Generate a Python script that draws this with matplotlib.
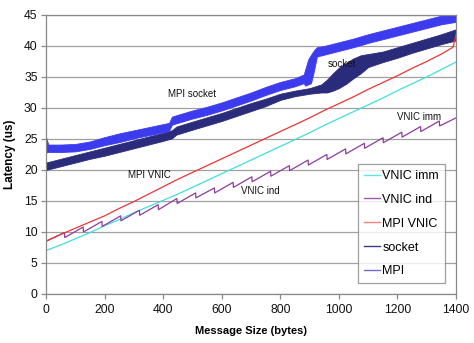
import matplotlib
matplotlib.use("Agg")
import matplotlib.pyplot as plt
from matplotlib.lines import Line2D

plt.rcParams['font.family'] = ['Liberation Sans', 'DejaVu Sans']

# ---- data (message size in bytes, latency in us) ----
vnic_imm_x = [0, 50, 100, 150, 200, 250, 300, 350, 400, 450, 500, 550, 600, 650, 700,
              750, 800, 850, 900, 950, 1000, 1050, 1100, 1150, 1200, 1250, 1300, 1350, 1400]
vnic_imm_y = [7.0, 7.9, 8.9, 9.9, 11.0, 12.0, 13.1, 14.1, 15.1, 16.1, 17.2, 18.3, 19.4, 20.5, 21.6,
              22.7, 23.8, 24.9, 26.0, 27.2, 28.3, 29.4, 30.5, 31.6, 32.8, 33.9, 35.0, 36.2, 37.4]

mpi_vnic_x = [0, 50, 100, 150, 200, 250, 300, 350, 400, 450, 500, 550, 600, 650, 700,
              750, 800, 850, 900, 950, 1000, 1050, 1100, 1150, 1200, 1250, 1300, 1350, 1390, 1400]
mpi_vnic_y = [8.5, 9.6, 10.6, 11.6, 12.6, 13.8, 14.9, 16.1, 17.3, 18.5, 19.6, 20.7, 21.8, 22.9, 24.0,
              25.1, 26.2, 27.3, 28.4, 29.6, 30.7, 31.8, 33.0, 34.1, 35.2, 36.4, 37.5, 38.7, 39.8, 41.8]

vnic_ind_x = [0, 63, 64, 127, 128, 191, 192, 255, 256, 319, 320, 383, 384, 447, 448, 511, 512,
              575, 576, 639, 640, 703, 704, 767, 768, 831, 832, 895, 896, 959, 960, 1023, 1024,
              1087, 1088, 1151, 1152, 1215, 1216, 1279, 1280, 1343, 1344, 1400]
vnic_ind_y = [8.5, 9.9, 9.1, 10.8, 10.0, 11.7, 10.9, 12.6, 11.8, 13.5, 12.7, 14.4, 13.6, 15.4, 14.6,
              16.3, 15.5, 17.1, 16.3, 18.0, 17.2, 18.9, 18.1, 19.8, 19.0, 20.7, 19.9, 21.6, 20.8,
              22.5, 21.7, 23.4, 22.6, 24.3, 23.5, 25.2, 24.4, 26.1, 25.3, 27.0, 26.2, 27.9, 27.1, 28.4]

socket_x = [0, 50, 100, 150, 200, 250, 300, 350, 400, 430, 445, 500, 550, 600, 650, 700, 750,
            800, 850, 900, 940, 960, 980, 1000, 1025, 1050, 1075, 1100, 1150, 1200, 1250, 1300,
            1350, 1400]
socket_low = [20.0, 20.6, 21.2, 21.8, 22.3, 22.9, 23.5, 24.1, 24.7, 25.1, 25.7, 26.5, 27.2, 27.9,
              28.7, 29.5, 30.3, 31.3, 31.9, 32.3, 32.5, 32.5, 32.8, 33.2, 33.9, 34.8, 35.6, 36.6,
              37.4, 38.1, 38.9, 39.6, 40.3, 40.9]
socket_high = [21.2, 21.8, 22.4, 23.0, 23.6, 24.2, 24.8, 25.4, 26.0, 26.4, 27.0, 27.8, 28.5, 29.2,
               30.0, 30.8, 31.5, 32.3, 32.8, 33.2, 33.8, 34.6, 35.6, 36.5, 37.3, 38.0, 38.5, 38.7,
               39.1, 39.8, 40.5, 41.2, 41.9, 42.7]

mpi_x = [0, 8, 50, 100, 150, 200, 250, 300, 350, 400, 420, 430, 450, 500, 550, 600, 650, 700,
         750, 800, 850, 880, 885, 895, 905, 915, 925, 950, 1000, 1050, 1100, 1150, 1200, 1250,
         1300, 1350, 1400]
mpi_low = [22.8, 22.9, 22.9, 23.0, 23.4, 24.0, 24.5, 25.1, 25.6, 26.1, 26.3, 27.3, 27.6, 28.3,
           28.9, 29.6, 30.4, 31.2, 32.1, 32.9, 33.5, 34.0, 33.6, 33.8, 34.0, 36.0, 38.3, 38.6,
           39.2, 39.8, 40.5, 41.1, 41.7, 42.3, 42.9, 43.5, 43.9]
mpi_high = [25.3, 24.1, 24.1, 24.2, 24.6, 25.3, 25.9, 26.4, 26.9, 27.4, 27.6, 28.6, 28.9, 29.6,
            30.2, 30.9, 31.7, 32.5, 33.4, 34.2, 34.8, 35.4, 36.2, 37.8, 38.6, 39.3, 39.8, 40.0,
            40.6, 41.2, 41.9, 42.5, 43.1, 43.7, 44.3, 44.9, 45.0]

legend_labels = ["VNIC imm", "VNIC ind", "MPI VNIC", "socket", "MPI"]
x_ticks = [0, 200, 400, 600, 800, 1000, 1200, 1400]
y_ticks = [0, 5, 10, 15, 20, 25, 30, 35, 40, 45]

# ---- styles ----
c_imm = '#3fdede'
c_ind = '#8e3c9c'
c_mvnic = '#ee3434'
c_sock = '#2b2b7c'
c_mpi = '#3c3cee'
grid_c = '#a0a0a0'

fig = plt.figure(figsize=(4.74, 3.43), dpi=100)
ax = fig.add_axes([0.0970, 0.1429, 0.8650, 0.8134])

ax.set_xlim(0, 1400)
ax.set_ylim(0, 45)
ax.set_xticks(x_ticks)
ax.set_yticks(y_ticks)
ax.yaxis.grid(True, color=grid_c, linewidth=0.9)
ax.set_axisbelow(True)
for s in ax.spines.values():
    s.set_color('#888888')
    s.set_linewidth(0.9)
ax.tick_params(axis='both', direction='out', length=3.5, width=0.9, color='#888888',
               labelsize=8.8, labelcolor='#111111', pad=2.5)
ax.tick_params(axis='x', pad=4)

ax.plot(vnic_imm_x, vnic_imm_y, color=c_imm, lw=0.9)
ax.plot(vnic_ind_x, vnic_ind_y, color=c_ind, lw=0.9)
ax.plot(mpi_vnic_x, mpi_vnic_y, color=c_mvnic, lw=0.9)
ax.fill_between(socket_x, socket_low, socket_high, color=c_sock, lw=0.6, edgecolor=c_sock)
ax.fill_between(mpi_x, mpi_low, mpi_high, color=c_mpi, lw=0.6, edgecolor=c_mpi)

ax.set_xlabel("Message Size (bytes)", fontsize=8, fontweight='bold', labelpad=7)
ax.set_ylabel("Latency (us)", fontsize=8.5, fontweight='bold', labelpad=6)

ann_kw = dict(fontsize=7, ha='center', va='center', color='#111111')
ax.text(498, 32.3, "MPI socket", **ann_kw)
ax.text(1011, 37.1, "socket", **ann_kw)
ax.text(1274, 28.5, "VNIC imm", **ann_kw)
ax.text(731, 16.6, "VNIC ind", **ann_kw)
ax.text(352, 19.2, "MPI VNIC", **ann_kw)

handles = [Line2D([], [], color=c, lw=1.0) for c in
           ['#5fe6e6', '#a05aac', '#f08080', '#3a3a80', '#6a6ad8']]
leg = ax.legend(handles, legend_labels, loc='lower left', bbox_to_anchor=(0.761, 0.039),
                fontsize=9, frameon=True, fancybox=False, edgecolor='#888888',
                borderpad=0.45, labelspacing=0.95, handlelength=1.35, handletextpad=0.15,
                borderaxespad=0)
leg.get_frame().set_linewidth(0.9)

fig.savefig("out.png", dpi=100)
